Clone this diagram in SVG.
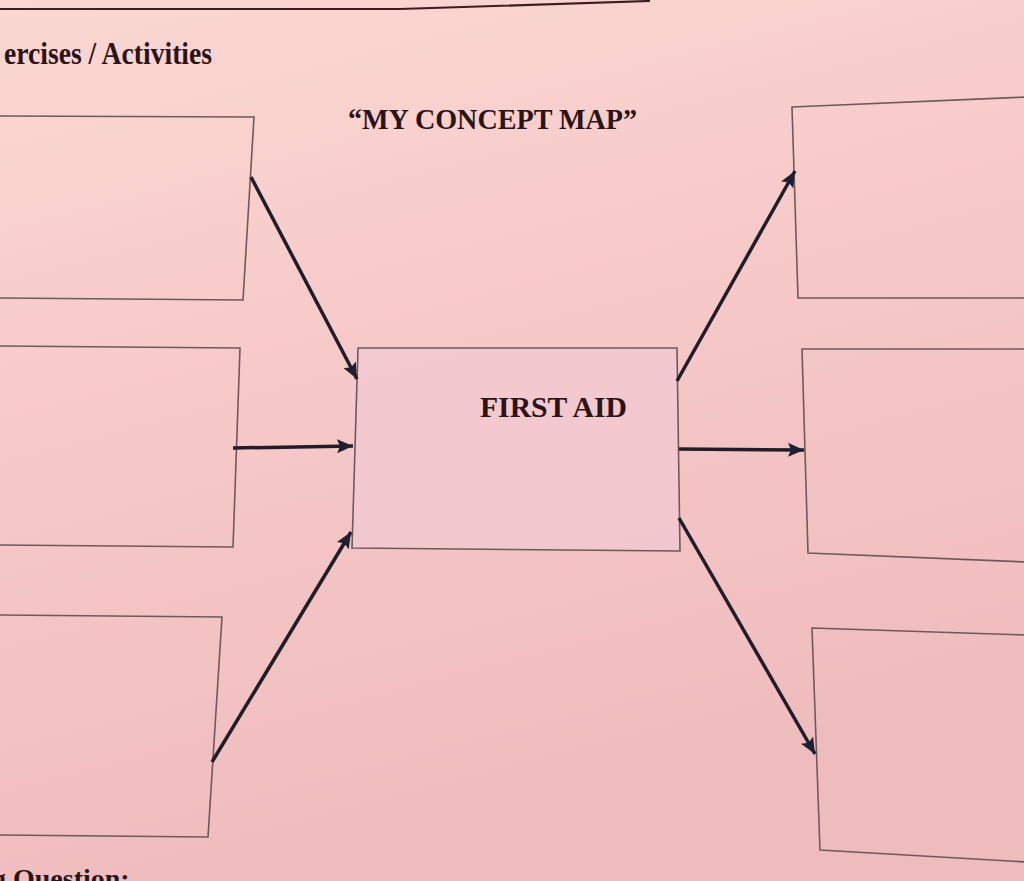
<svg xmlns="http://www.w3.org/2000/svg" width="1024" height="881" viewBox="0 0 1024 881">
<defs>
<linearGradient id="bg" x1="0" y1="0" x2="0.3" y2="1">
<stop offset="0" stop-color="#fbd8d2"/>
<stop offset="0.5" stop-color="#f6c8c8"/>
<stop offset="1" stop-color="#efbcbe"/>
</linearGradient>
<marker id="ah" markerUnits="userSpaceOnUse" markerWidth="18" markerHeight="14" refX="16" refY="7" orient="auto">
<path d="M0,0 L16,7 L0,14 L3,7 Z" fill="#1c2030"/>
</marker>
<style>
.box{fill:none;stroke:#6e5a5c;stroke-width:1.6}
.conn{stroke:#1f1d28;stroke-width:3.5;fill:none;marker-end:url(#ah)}
.hd{font-family:"Liberation Serif","Times New Roman",serif;font-weight:bold;fill:#2a1416}
</style>
</defs>
<rect width="1024" height="881" fill="url(#bg)"/>
<polygon points="352,348 677,348 680,551 352,548" fill="#f1cbd6" opacity="0.55"/>
<polyline points="0,9 400,9 650,1" fill="none" stroke="#3a1e20" stroke-width="2.2"/>
<text class="hd" x="4" y="64" font-size="31" textLength="208" lengthAdjust="spacingAndGlyphs">ercises / Activities</text>
<text class="hd" x="348" y="129" font-size="29" textLength="289" lengthAdjust="spacingAndGlyphs">“MY CONCEPT MAP”</text>
<text class="hd" x="-8" y="888" font-size="28">g Question:</text>
<g id="n-left-top"><polygon class="box" points="-2,116 254,117 243,300 -2,298"/></g>
<g id="n-left-mid"><polygon class="box" points="-2,346 240,348 233,547 -2,545"/></g>
<g id="n-left-bot"><polygon class="box" points="-2,615 222,617 208,837 -2,835"/></g>
<g id="n-center"><polygon class="box" points="358,348 677,348 680,551 352,548"/>
<text class="hd" x="480" y="417" font-size="30" textLength="147" lengthAdjust="spacingAndGlyphs">FIRST AID</text></g>
<g id="n-right-top"><polygon class="box" points="792,107 1026,97 1026,298 798,298"/></g>
<g id="n-right-mid"><polygon class="box" points="802,349 1026,349 1026,562 808,553"/></g>
<g id="n-right-bot"><polygon class="box" points="812,628 1026,635 1026,862 820,850"/></g>
<g id="connectors">
<line class="conn" x1="251" y1="177" x2="357" y2="379"/>
<line class="conn" x1="233" y1="448" x2="353" y2="446"/>
<line class="conn" x1="212" y1="762" x2="351" y2="532"/>
<line class="conn" x1="677" y1="381" x2="795" y2="171"/>
<line class="conn" x1="679" y1="449" x2="804" y2="450"/>
<line class="conn" x1="679" y1="518" x2="815" y2="754"/>
</g>
</svg>
